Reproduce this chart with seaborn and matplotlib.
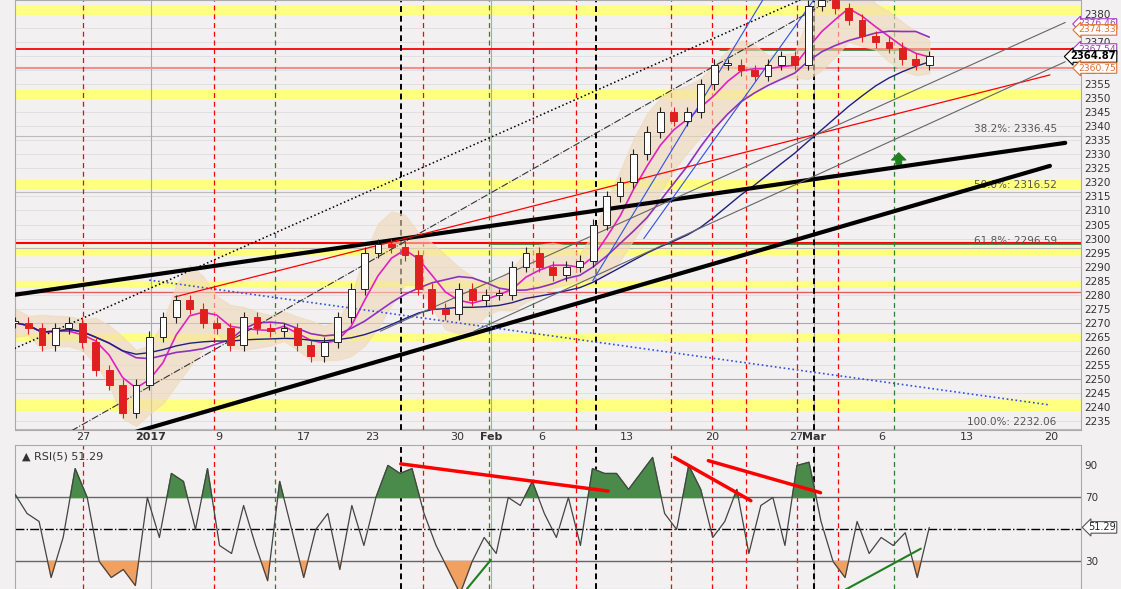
import numpy as np
import pandas as pd
import matplotlib
matplotlib.use("Agg")
import matplotlib.pyplot as plt
import matplotlib.transforms as mtrans
import seaborn as sns

sns.set_style("white")
plt.rcParams['font.family'] = ['DejaVu Sans']

# ---- data (x in trading-day index, Dec 27 = 0) ----
closes = [2270, 2268, 2262, 2268, 2270, 2263, 2253, 2248, 2238, 2248, 2265, 2272, 2278, 2275,
          2270, 2268, 2262, 2272, 2268, 2267, 2268, 2262, 2258, 2263, 2272, 2282, 2295, 2298,
          2297, 2294, 2282, 2275, 2273, 2282, 2278, 2280, 2280, 2290, 2295, 2290, 2287, 2290,
          2292, 2305, 2315, 2320, 2330, 2338, 2345, 2342, 2345, 2355, 2362, 2362, 2360, 2358,
          2362, 2365, 2362, 2383, 2385, 2382, 2378, 2372, 2370, 2368, 2364, 2362, 2364.87]
rsi = [72, 60, 55, 20, 45, 88, 70, 30, 20, 25, 15, 70, 45, 85, 80, 50, 88, 40, 35, 65, 40, 18,
       80, 50, 20, 50, 60, 25, 65, 40, 70, 90, 85, 88, 60, 40, 25, 10, 30, 45, 35, 70, 65, 80,
       60, 45, 70, 40, 88, 85, 85, 75, 85, 95, 60, 50, 90, 75, 45, 55, 75, 35, 65, 70, 40, 90,
       92, 55, 30, 20, 55, 35, 45, 40, 48, 20, 51.29]
x_labels = ["27", "2017", "9", "17", "23", "30", "Feb", "6", "13", "20", "27", "Mar", "6", "13", "20"]
x_label_pos = [0, 4, 8, 13, 17, 22, 24, 27, 32, 37, 42, 43, 47, 52, 57]
bold_labels = ["2017", "Feb", "Mar"]
yellow_bands = [(2380, 2383), (2350, 2353), (2318, 2321), (2294, 2297), (2283, 2285), (2264, 2266), (2239, 2243)]
red_levels = [2367.5, 2298.5, 2281]
fib_levels = [("38.2%: 2336.45", 2336.45), ("50.0%: 2316.52", 2316.52), ("61.8%: 2296.59", 2296.59), ("100.0%: 2232.06", 2232.06)]
tags = [("2376.46", 2376.46, "#a040c0"), ("2374.33", 2374.33, "#e07030"), ("2367.54", 2367.54, "#a040c0"),
        ("2364.87", 2364.87, "black"), ("2360.75", 2360.75, "#e07030")]
vlines_red = [0, 7.7, 20, 26.5, 29, 34.6, 37, 39, 42, 44.4]
vlines_black = [18.7, 30.2, 43]
vlines_green = [11.3, 23.9, 47.7]

bg = "#f2f0f0"
fig = plt.figure(figsize=(11.21, 5.89), dpi=100, facecolor=bg)
ax = fig.add_axes([0.0134, 0.27, 0.9505, 0.73], facecolor=bg)
ar = fig.add_axes([0.0134, 0.0, 0.9505, 0.2445], facecolor=bg)

n = len(closes)
xs = np.linspace(-4, 49.8, n)
df = pd.DataFrame({"x": xs, "close": closes})
df["open"] = df["close"].shift(1).fillna(df["close"])
df["ma1"] = df["close"].rolling(4, min_periods=1).mean()
df["ma2"] = df["close"].rolling(9, min_periods=1).mean()
df["ma3"] = df["close"].rolling(22, min_periods=1).mean()
sd = df["close"].rolling(6, min_periods=2).std().fillna(3)
df["up"] = df["ma1"] + 1.0 * sd + 2
df["lo"] = df["ma1"] - 1.0 * sd - 2

xmin, xmax = -4, 58.7
ax.set_xlim(xmin, xmax)
ax.set_ylim(2231.8, 2385)

for y0, y1 in yellow_bands:
    ax.axhspan(y0, y1, color="#ffff80", zorder=1)
for v in range(2235, 2385, 5):
    ax.axhline(v, color="#dddddd", lw=0.6, zorder=0)
for v in [2250, 2270]:
    ax.axhline(v, color="#aaaaaa", lw=0.8, zorder=1)
for lab, v in fib_levels:
    ax.axhline(v, color="#bbbbbb", lw=0.8, zorder=1)
    ax.text(57.3, v + 0.8, lab, ha="right", va="bottom", fontsize=7.5, color="#555555")
ax.axhline(red_levels[0], color="red", lw=1.3, zorder=2)
ax.axhline(2360.75, color="#f09090", lw=1.5, zorder=2)
ax.axhline(red_levels[1], color="red", lw=1.5, zorder=2)
ax.axhline(red_levels[2], color="#e06060", lw=1, zorder=2)
ax.plot([24, xmax], [2298.0, 2298.0], color="#308030", lw=1.2, zorder=2)
ax.plot([37.5, 49.8], [2367.2, 2367.2], color="#308030", lw=1.2, zorder=2)

for a in (ax, ar):
    for v in vlines_red:
        a.axvline(v, color="red", ls=(0, (4, 3)), lw=0.9, zorder=2)
    for v in vlines_black:
        a.axvline(v, color="black", ls=(0, (3, 2)), lw=1.4, zorder=2)
    for v in vlines_green:
        a.axvline(v, color="#308030", ls=(0, (4, 3)), lw=0.9, zorder=2)
    for v in [4, 24, 43]:
        a.axvline(v, color="#aaaaaa", lw=0.8, zorder=1)

ax.fill_between(df["x"], df["lo"], df["up"], color="#f0d8b8", alpha=0.6, zorder=2)
sns.lineplot(data=df, x="x", y="ma1", ax=ax, color="#e020c0", lw=1.2, zorder=4)
sns.lineplot(data=df, x="x", y="ma2", ax=ax, color="#9030c0", lw=1.2, zorder=4)
sns.lineplot(data=df, x="x", y="ma3", ax=ax, color="#202080", lw=1.0, zorder=4)

# trend lines
ax.plot([-4.9, 57.8], [2279.2, 2334.1], color="black", lw=3, zorder=5)
ax.plot([-3.6, 56.9], [2219.3, 2325.9], color="black", lw=3, zorder=5)
ax.plot([3.9, 56.9], [2285.2, 2240.7], color="#3050e0", ls=":", lw=1.2, zorder=5)
ax.plot([5.4, 56.9], [2279.2, 2358.3], color="red", lw=0.9, zorder=5)
ax.plot([-4.9, 42.2], [2258.5, 2385], color="black", ls=":", lw=1.1, zorder=5)
ax.plot([-4.9, 44], [2217, 2385], color="#333333", ls="-.", lw=0.8, zorder=5)
ax.plot([17.5, 57.8], [2267, 2377], color="#666666", lw=0.8, zorder=5)
ax.plot([23, 57.8], [2267, 2363], color="#666666", lw=0.8, zorder=5)
ax.plot([30, 40], [2285, 2385], color="#3050e0", lw=0.8, zorder=5)
ax.plot([33, 43], [2300, 2385], color="#3050e0", lw=0.8, zorder=5)

# candles
w = 0.4
for _, r in df.iterrows():
    up = r["close"] >= r["open"]
    col = "#222222" if up else "#e02020"
    lo, hi = min(r["open"], r["close"]), max(r["open"], r["close"])
    ax.vlines(r["x"], lo - 2, hi + 2, color=col, lw=0.8, zorder=6)
    ax.bar(r["x"], max(hi - lo, 0.6), bottom=lo, width=w, color="white" if up else col,
           edgecolor=col, lw=0.7, zorder=7)
ax.annotate("", xy=(48, 2330.5), xytext=(48, 2326.5),
            arrowprops=dict(color="#208020", width=4, headwidth=10, headlength=5))

ax.yaxis.tick_right()
ax.set_yticks(range(2235, 2385, 5))
ax.tick_params(axis="y", labelsize=7.5, length=0, pad=3, colors="#333333")
ax.set_xticks([])
ax.set_xlabel(""); ax.set_ylabel("")
tr = mtrans.blended_transform_factory(fig.transFigure, ax.transData)
for lab, v, c in tags:
    ax.text(1116 / 1121, v, lab, ha="right", va="center", fontsize=7.2 if c == "black" else 6.6,
            color=c, fontweight="bold" if c == "black" else "normal", transform=tr,
            bbox=dict(boxstyle="larrow,pad=0.08", fc="white", ec=c, lw=0.8), zorder=10, clip_on=False)
for s in ax.spines.values():
    s.set_color("#aaaaaa")

# x labels between panels
for lab, p in zip(x_labels, x_label_pos):
    fig.text(0.0134 + 0.9505 * (p - xmin) / (xmax - xmin), 1 - 437 / 589, lab, ha="center", va="center",
             fontsize=8, color="#333333", fontweight="bold" if lab in bold_labels else "normal")

# RSI
rx = np.linspace(-4, 49.8, len(rsi))
rdf = pd.DataFrame({"x": rx, "rsi": rsi})
ar.set_xlim(xmin, xmax)
ar.set_ylim(12.8, 102.8)
ar.fill_between(rx, 70, rdf["rsi"], where=rdf["rsi"] >= 70, interpolate=True, color="#4a8a4a", zorder=3)
ar.fill_between(rx, 30, rdf["rsi"], where=rdf["rsi"] <= 30, interpolate=True, color="#f0a060", zorder=3)
sns.lineplot(data=rdf, x="x", y="rsi", ax=ar, color="#444444", lw=0.9, zorder=4)
ar.axhline(70, color="#666666", lw=1)
ar.axhline(30, color="#666666", lw=1)
ar.axhline(50, color="black", ls="-.", lw=1)
ar.plot([18.7, 30.9], [91, 74], color="red", lw=2.5, zorder=6)
ar.plot([34.8, 39.3], [95, 68], color="red", lw=2.5, zorder=6)
ar.plot([36.8, 43.4], [93, 73], color="red", lw=2.5, zorder=6)
ar.plot([22.6, 24.0], [13, 31], color="#208020", lw=1.5, zorder=6)
ar.plot([44.8, 49.3], [12, 38], color="#208020", lw=1.5, zorder=6)
ar.yaxis.tick_right()
ar.set_yticks([30, 70, 90])
ar.tick_params(axis="y", labelsize=7.5, length=0, pad=3, colors="#333333")
ar.set_xticks([])
ar.set_xlabel(""); ar.set_ylabel("")
tr2 = mtrans.blended_transform_factory(fig.transFigure, ar.transData)
ar.text(1116 / 1121, 51.29, "51.29", ha="right", va="center", fontsize=7, transform=tr2,
        bbox=dict(boxstyle="larrow,pad=0.08", fc="white", ec="#555555", lw=0.8), clip_on=False)
ar.text(-3.6, 99, "▲ RSI(5) 51.29", fontsize=8, color="#333333", va="top")
for s in ar.spines.values():
    s.set_color("#aaaaaa")

fig.savefig("out.png", dpi=100, facecolor=bg)
